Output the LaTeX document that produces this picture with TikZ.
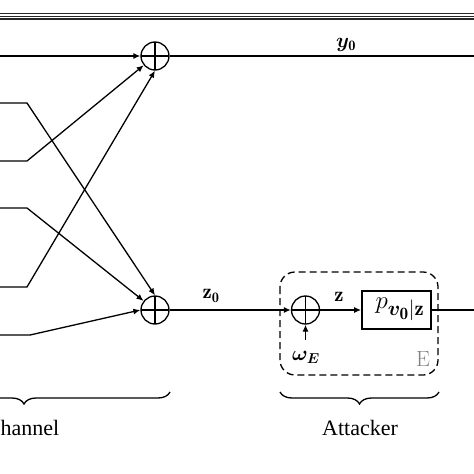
\documentclass[tikz,border=0pt]{standalone}
\usepackage{bm}
\usepackage{fontspec}
\newfontfamily\timesfont{Liberation Serif}
\usetikzlibrary{arrows.meta,decorations.pathreplacing}
\tikzset{
  wire/.style={line width=1.3pt},
  arr/.style={wire,-{Latex[length=7pt,width=6pt]}},
  sumnode/.style={circle,draw,line width=1.3pt,minimum size=28pt,inner sep=0pt,
    path picture={\draw[line width=1.2pt] (path picture bounding box.north) -- (path picture bounding box.south)
      (path picture bounding box.west) -- (path picture bounding box.east);}},
  mlbl/.style={font=\huge,inner sep=1pt},
  blockbox/.style={draw,line width=1.7pt,minimum width=69pt,minimum height=38pt,inner sep=0pt},
  dashbox/.style={draw,line width=1.3pt,dash pattern=on 7pt off 4pt,rounded corners=15pt},
  bracedeco/.style={line width=1.3pt,decorate,decoration={brace,amplitude=12pt}},
  toplines/.style={line width=1.1pt,black!85},
  txt/.style={font=\timesfont\fontsize{22}{26}\selectfont,inner sep=0pt}
}
\begin{document}
\begin{tikzpicture}[x=1pt,y=-1pt]
\useasboundingbox (0,0) rectangle (474,474);
\clip (0,0) rectangle (474,474);
% top triple rule
\draw[toplines] (0,13.5) -- (474,13.5);
\draw[toplines] (0,16.2) -- (474,16.2);
\draw[toplines] (0,19) -- (474,19);
% sum nodes
\node[sumnode] (s1) at (155,56) {};
\node[sumnode] (s2) at (155,310) {};
\node[sumnode] (s3) at (305.5,310) {};
\node[blockbox] (pb) at (396.5,310) {};
\node[mlbl,font=\Huge] (plbl) at (400,309) {$p_{\bm{v}_{\mathbf{0}}|\mathbf{z}}$};
% input coordinates
\coordinate (a0) at (0,56);
\coordinate (a1) at (0,103);   \coordinate (b1) at (27,103);
\coordinate (a2) at (0,161);   \coordinate (b2) at (27,161);
\coordinate (a3) at (0,208);   \coordinate (b3) at (27,208);
\coordinate (a4) at (0,287);   \coordinate (b4) at (27,287);
\coordinate (a5) at (0,335);   \coordinate (b5) at (30,335);
\coordinate (e1) at (474,56);
\coordinate (e2) at (474,310);
\coordinate (wE) at (305.5,340);
% connectors
\draw[arr] (a0) -- (s1.west);
\draw[wire] (s1.east) -- (e1);
\draw[arr] (a1) -- (b1) -- (s2.north);
\draw[arr] (a2) -- (b2) -- (s1);
\draw[arr] (a3) -- (b3) -- (s2);
\draw[arr] (a4) -- (b4) -- (s1.south);
\draw[arr] (a5) -- (b5) -- (s2.west);
\draw[arr] (s2.east) -- (s3.west);
\draw[arr] (s3.east) -- (pb.west);
\draw[wire] (pb.east) -- (e2);
\draw[arr] (wE) -- (s3.south);
% labels
\node[mlbl] (ly) at (346,45) {$\bm{y}_{\mathbf{0}}$};
\node[mlbl] (lz0) at (211,296) {$\mathbf{z}_{\mathbf{0}}$};
\node[mlbl] (lz) at (339,297) {$\mathbf{z}$};
\node[mlbl] (lw) at (306,357) {$\bm{\omega}_{\bm{E}}$};
% attacker dashed box
\draw[dashbox] (280,272) rectangle (438,375);
\node[font=\fontsize{22}{26}\selectfont,text=black!50,inner sep=0pt] (lE) at (423,359) {E};
% braces
\draw[bracedeco] (170,392) -- (-122,392);
\draw[bracedeco] (439,392) -- (280,392);
\node[txt,anchor=west] (lch) at (0.5,428) {hannel};
\node[txt] (latt) at (360,428) {Attacker};
\end{tikzpicture}
\end{document}
